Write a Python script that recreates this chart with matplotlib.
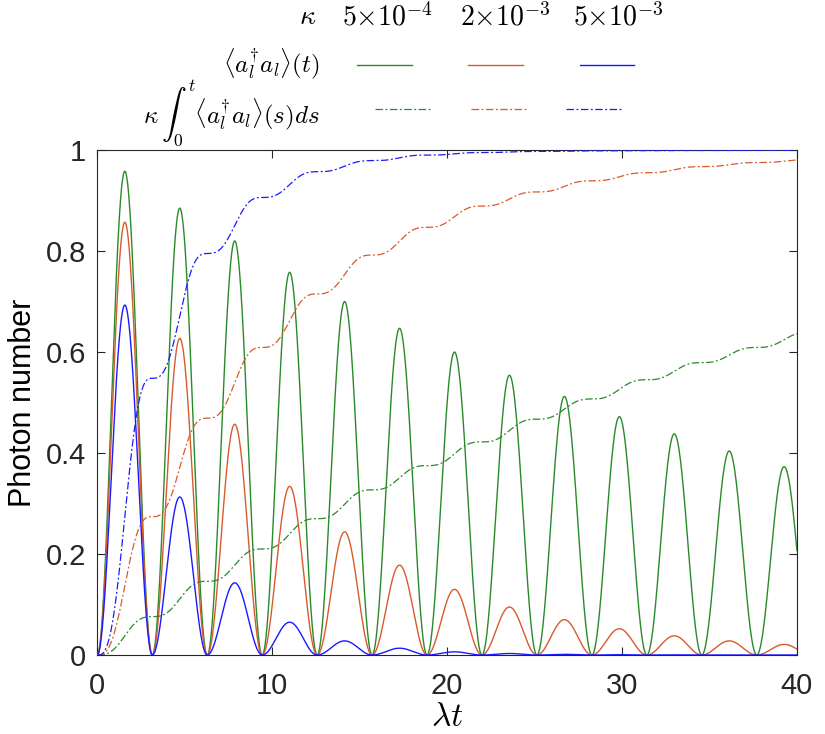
import numpy as np
import matplotlib.pyplot as plt
from matplotlib.lines import Line2D

plt.rcParams['mathtext.fontset'] = 'cm'
plt.rcParams['font.family'] = ['Liberation Sans', 'DejaVu Sans']

# legend entries
kappa_labels = [r'$5{\times}10^{-4}$', r'$2{\times}10^{-3}$', r'$5{\times}10^{-3}$']
colors = ['#2a8a2a', '#d95a2b', '#1a1aff']

# peak photon number of each lobe, lobe k spans (k-1)*pi .. k*pi in lambda*t
peak_green = [0.958, 0.885, 0.820, 0.758, 0.700, 0.647, 0.600, 0.554, 0.512,
              0.472, 0.438, 0.404, 0.373]
peak_red = [0.857, 0.627, 0.457, 0.334, 0.244, 0.178, 0.130, 0.095, 0.070,
            0.052, 0.038, 0.028, 0.021]
peak_blue = [0.693, 0.313, 0.143, 0.065, 0.028, 0.0135, 0.0063, 0.003, 0.0014,
             0.00065, 0.0003, 0.00014, 0.00006]

# kappa * integral, read at the end of each lobe (t = k*pi, k = 1..13)
int_green = [0.076, 0.146, 0.210, 0.270, 0.327, 0.375, 0.422, 0.467, 0.507,
             0.545, 0.579, 0.609, 0.640]
int_red = [0.274, 0.469, 0.609, 0.715, 0.792, 0.847, 0.889, 0.917, 0.939,
           0.955, 0.967, 0.975, 0.981]
int_blue = [0.548, 0.795, 0.906, 0.957, 0.979, 0.990, 0.995, 0.9972, 0.9983,
            0.9988, 0.9991, 0.9993, 0.9994]

xticks = [0, 10, 20, 30, 40]
yticks = [0, 0.2, 0.4, 0.6, 0.8, 1]
yticklabels = ['0', '0.2', '0.4', '0.6', '0.8', '1']


def build(t, peaks, steps):
    # each lobe is a sin^2 arch between zeros; the integral rises along it
    k = np.minimum((t // np.pi).astype(int), len(peaks) - 1)
    u = t - k * np.pi
    n = np.array(peaks)[k] * np.sin(u) ** 2
    lo = np.concatenate([[0.0], steps])[k]
    hi = np.array(steps)[k]
    frac = (u - np.sin(u) * np.cos(u)) / np.pi
    return n, lo + (hi - lo) * frac


t = np.linspace(0, 40, 4001)
series = [(peak_green, int_green), (peak_red, int_red), (peak_blue, int_blue)]

fig = plt.figure(figsize=(8.25, 7.34), dpi=100)
ax = fig.add_axes([0.118, 0.1076, 0.848, 0.688])

curves = [build(t, p, s) for p, s in series]
for (n, _), c in zip(curves, colors):
    ax.plot(t, n, color=c, lw=1.0, zorder=3)
for (_, cum), c in zip(curves, colors):
    ax.plot(t, cum, color=c, lw=0.9, ls=(0, (6, 2, 1.5, 2)), zorder=3)

ax.set_xlim(0, 40)
ax.set_ylim(0, 1)
ax.set_xticks(xticks)
ax.set_yticks(yticks)
ax.set_yticklabels(yticklabels)
ax.tick_params(direction='in', top=True, right=True, length=6, width=0.8,
               labelsize=21, colors='#262626')
ax.tick_params(axis='x', pad=12)
ax.tick_params(axis='y', pad=8)
for sp in ax.spines.values():
    sp.set_color('#262626')
    sp.set_linewidth(0.8)
ax.set_ylabel('Photon number', fontsize=22, labelpad=6)
ax.set_xlabel(r'$\lambda t$', fontsize=24, labelpad=2)

# legend block above the axes
fs = 20
fig.text(0.373, 0.977, r'$\kappa$', fontsize=fs, ha='center', va='center')
for x, lab in zip([0.470, 0.612, 0.749], kappa_labels):
    fig.text(x, 0.977, lab, fontsize=fs, ha='center', va='center')
fig.text(0.387, 0.913, r'$\langle a^{\dagger}_{l} a_l\rangle(t)$', fontsize=18,
         ha='right', va='center')
fig.text(0.388, 0.845,
         r'$\kappa\,\int_0^t\langle a^{\dagger}_{l} a_l\rangle(s)ds$',
         fontsize=18, ha='right', va='center')
solid_x = [(0.433, 0.499), (0.567, 0.634), (0.703, 0.768)]
dash_x = [(0.455, 0.521), (0.571, 0.638), (0.686, 0.754)]
for (a, b), c in zip(solid_x, colors):
    fig.add_artist(Line2D([a, b], [0.911, 0.911], color=c, lw=1.0))
for (a, b), c in zip(dash_x, colors):
    fig.add_artist(Line2D([a, b], [0.852, 0.852], color=c, lw=0.9,
                          ls=(0, (6, 2, 1.5, 2))))

fig.savefig('out.png', dpi=100)
